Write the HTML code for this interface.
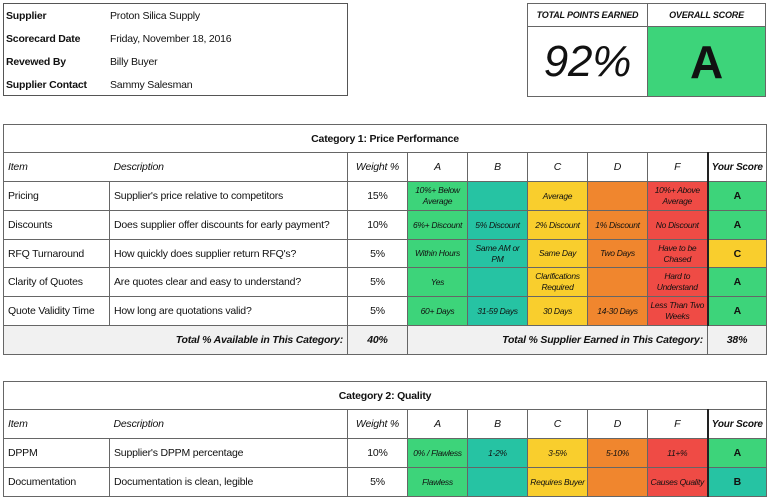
<!DOCTYPE html>
<html><head><meta charset="utf-8"><style>
*{margin:0;padding:0;box-sizing:border-box}
body{width:768px;height:489px;background:#fff;position:relative;overflow:hidden;font-family:"Liberation Sans",sans-serif;font-size:10.5px;letter-spacing:-0.2px;color:#111}
.box{position:absolute;border:1px solid #555}
table{border-collapse:collapse;table-layout:fixed;position:absolute}
td{border:1px solid #666;padding:0 4px;overflow:hidden;white-space:nowrap}
.c{text-align:center}
.i{font-style:italic}
.s{font-style:italic;font-size:8.5px;letter-spacing:-0.3px;text-align:center;white-space:normal;line-height:11px;padding:0 1px}
.g{background:#3dd47a}.t{background:#26c3a3}.y{background:#f9ce2d}.o{background:#f0862e}.r{background:#ef4b45}
.b{font-weight:bold}
.tot{background:#f1f1f1;font-weight:bold;font-style:italic}
.thick{border-right:2px solid #222}
</style></head><body>
<div class="box" style="left:3px;top:3px;width:345px;height:93px"></div>
<div style="position:absolute;left:6px;top:5px;line-height:23px">
<div><b style="display:inline-block;width:104px">Supplier</b>Proton Silica Supply</div>
<div><b style="display:inline-block;width:104px">Scorecard Date</b>Friday, November 18, 2016</div>
<div><b style="display:inline-block;width:104px">Revewed By</b>Billy Buyer</div>
<div><b style="display:inline-block;width:104px">Supplier Contact</b>Sammy Salesman</div>
</div>
<table style="left:527px;top:3px;width:239px">
<tr style="height:23px"><td class="c b i" style="width:120px;font-size:9px;padding:0">TOTAL POINTS EARNED</td><td class="c b i" style="font-size:9px;padding:0">OVERALL SCORE</td></tr>
<tr style="height:70px"><td class="c i" style="font-size:44px">92%</td><td class="c g b" style="font-size:46px">A</td></tr>
</table>

<table style="left:3px;top:124px;width:763px">
<colgroup><col style="width:106px"><col style="width:238px"><col style="width:60px"><col style="width:60px"><col style="width:60px"><col style="width:60px"><col style="width:60px"><col style="width:60px"><col style="width:59px"></colgroup>
<tr style="height:28px"><td colspan="9" class="c b">Category 1: Price Performance</td></tr>
<tr style="height:29px"><td class="i" style="border-right:none">Item</td><td class="i" style="border-left:none">Description</td><td class="c i">Weight %</td><td class="c i">A</td><td class="c i">B</td><td class="c i">C</td><td class="c i">D</td><td class="c i thick">F</td><td class="c b i" style="padding:0;font-size:10px">Your Score</td></tr>
<tr style="height:29px"><td>Pricing</td><td>Supplier's price relative to competitors</td><td class="c">15%</td><td class="s g">10%+ Below Average</td><td class="s t"></td><td class="s y">Average</td><td class="s o"></td><td class="s r thick">10%+ Above Average</td><td class="c g b">A</td></tr>
<tr style="height:29px"><td>Discounts</td><td>Does supplier offer discounts for early payment?</td><td class="c">10%</td><td class="s g">6%+ Discount</td><td class="s t">5% Discount</td><td class="s y">2% Discount</td><td class="s o">1% Discount</td><td class="s r thick">No Discount</td><td class="c g b">A</td></tr>
<tr style="height:28px"><td>RFQ Turnaround</td><td>How quickly does supplier return RFQ's?</td><td class="c">5%</td><td class="s g">Within Hours</td><td class="s t">Same AM or PM</td><td class="s y">Same Day</td><td class="s o">Two Days</td><td class="s r thick">Have to be Chased</td><td class="c y b">C</td></tr>
<tr style="height:29px"><td>Clarity of Quotes</td><td>Are quotes clear and easy to understand?</td><td class="c">5%</td><td class="s g">Yes</td><td class="s t"></td><td class="s y">Clarifications Required</td><td class="s o"></td><td class="s r thick">Hard to Understand</td><td class="c g b">A</td></tr>
<tr style="height:29px"><td>Quote Validity Time</td><td>How long are quotations valid?</td><td class="c">5%</td><td class="s g">60+ Days</td><td class="s t">31-59 Days</td><td class="s y">30 Days</td><td class="s o">14-30 Days</td><td class="s r thick">Less Than Two Weeks</td><td class="c g b">A</td></tr>
<tr style="height:29px"><td colspan="2" class="tot" style="text-align:right">Total % Available in This Category:</td><td class="c tot">40%</td><td colspan="5" class="tot" style="text-align:right">Total % Supplier Earned in This Category:</td><td class="c tot">38%</td></tr>
</table>

<table style="left:3px;top:381px;width:763px">
<colgroup><col style="width:106px"><col style="width:238px"><col style="width:60px"><col style="width:60px"><col style="width:60px"><col style="width:60px"><col style="width:60px"><col style="width:60px"><col style="width:59px"></colgroup>
<tr style="height:28px"><td colspan="9" class="c b">Category 2: Quality</td></tr>
<tr style="height:29px"><td class="i" style="border-right:none">Item</td><td class="i" style="border-left:none">Description</td><td class="c i">Weight %</td><td class="c i">A</td><td class="c i">B</td><td class="c i">C</td><td class="c i">D</td><td class="c i thick">F</td><td class="c b i" style="padding:0;font-size:10px">Your Score</td></tr>
<tr style="height:29px"><td>DPPM</td><td>Supplier's DPPM percentage</td><td class="c">10%</td><td class="s g">0% / Flawless</td><td class="s t">1-2%</td><td class="s y">3-5%</td><td class="s o">5-10%</td><td class="s r thick">11+%</td><td class="c g b">A</td></tr>
<tr style="height:29px"><td>Documentation</td><td>Documentation is clean, legible</td><td class="c">5%</td><td class="s g">Flawless</td><td class="s t"></td><td class="s y">Requires Buyer</td><td class="s o"></td><td class="s r thick">Causes Quality</td><td class="c t b">B</td></tr>
</table>
</body></html>
